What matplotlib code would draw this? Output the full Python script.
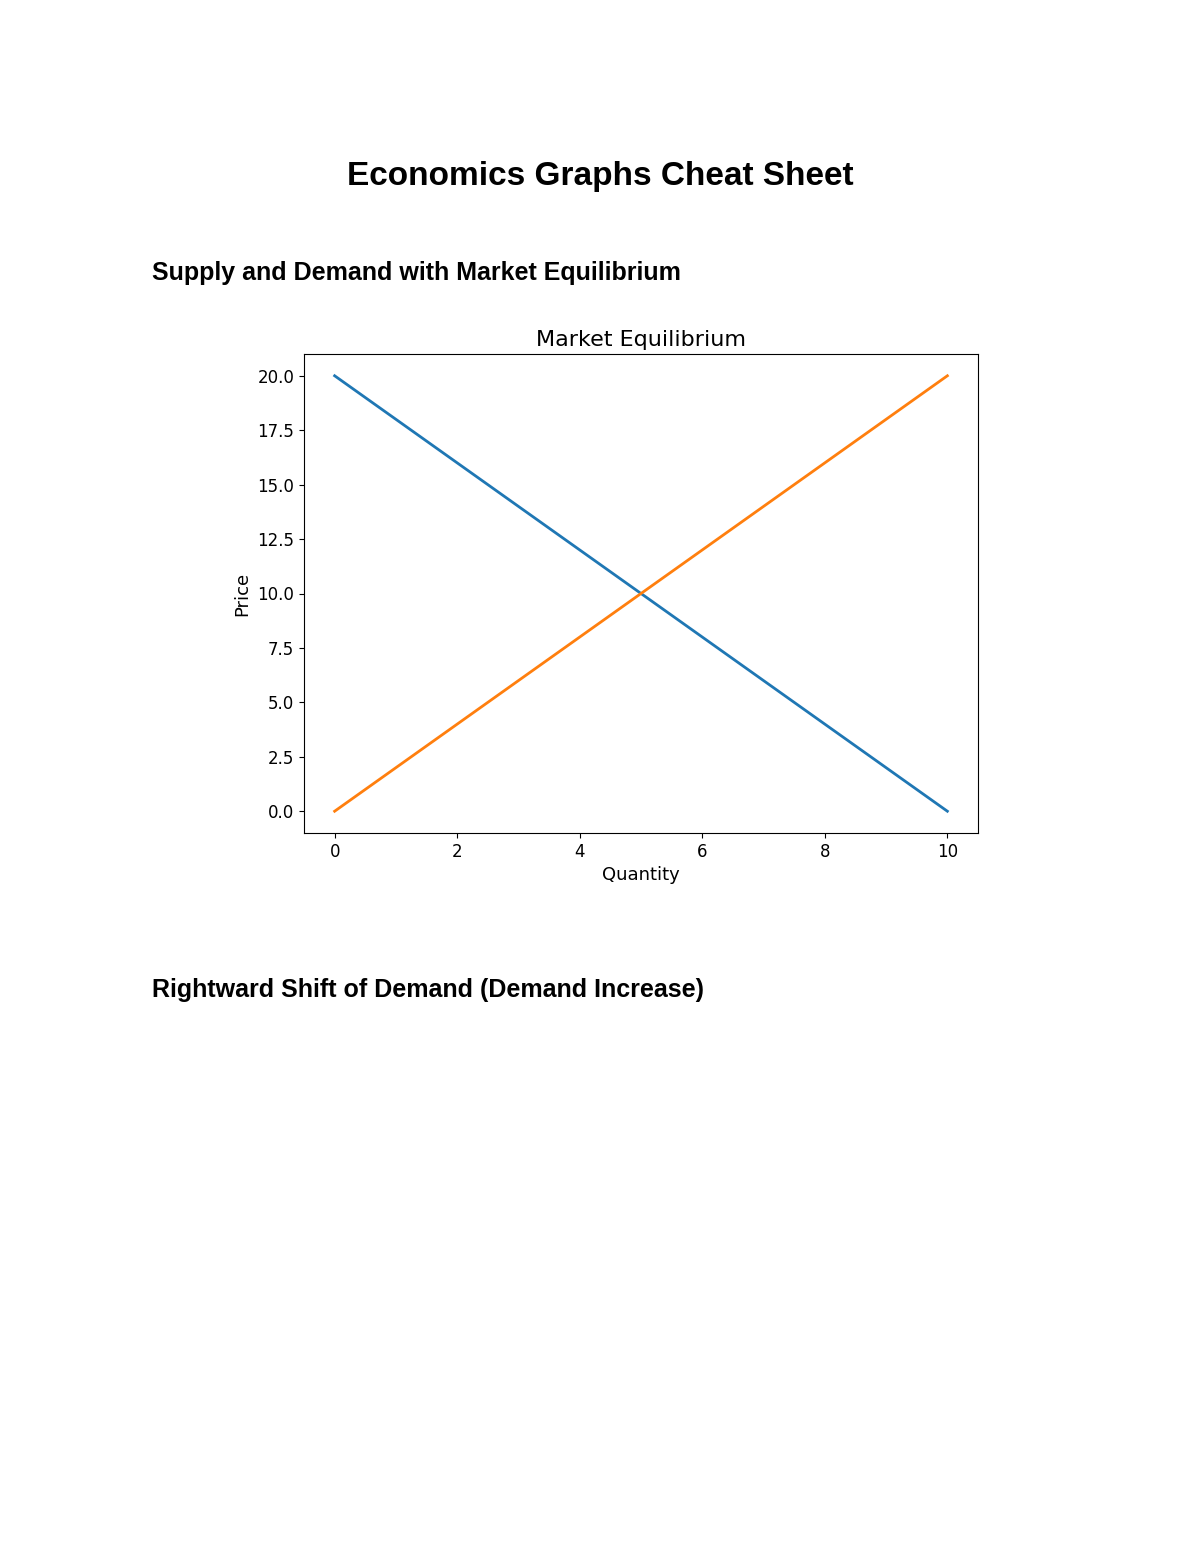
import matplotlib
matplotlib.use("Agg")
import matplotlib.pyplot as plt

quantity = [0, 10]
demand_price = [20, 0]
supply_price = [0, 20]

fig = plt.figure(figsize=(12, 15.53), dpi=100)
fig.text(0.5, 1 - 176/1553, "Economics Graphs Cheat Sheet", ha="center", va="center",
         fontsize=24, fontweight="bold", family="Liberation Sans")
fig.text(152/1200, 1 - 273/1553, "Supply and Demand with Market Equilibrium", ha="left", va="center",
         fontsize=18, fontweight="bold", family="Liberation Sans")
fig.text(152/1200, 1 - 990/1553, "Rightward Shift of Demand (Demand Increase)", ha="left", va="center",
         fontsize=18, fontweight="bold", family="Liberation Sans")

ax = fig.add_axes([304/1200, 1 - 833/1553, 674/1200, 479/1553])
ax.plot(quantity, demand_price, color="#1f77b4", lw=2)
ax.plot(quantity, supply_price, color="#ff7f0e", lw=2)
ax.set_xticks([0, 2, 4, 6, 8, 10])
ax.set_yticks([0, 2.5, 5, 7.5, 10, 12.5, 15, 17.5, 20])
ax.tick_params(labelsize=12)
ax.set_xlabel("Quantity", fontsize=13)
ax.set_ylabel("Price", fontsize=13)
ax.set_title("Market Equilibrium", fontsize=16)
fig.savefig("out.png", dpi=100)
